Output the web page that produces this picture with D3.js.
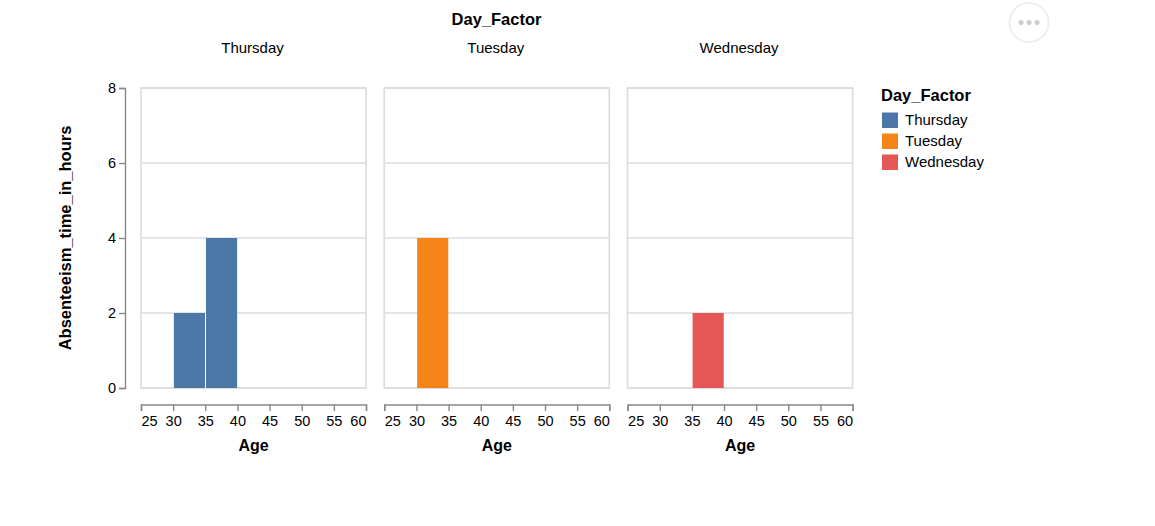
<!DOCTYPE html>
<html>
<head>
<meta charset="utf-8">
<script src="https://cdn.jsdelivr.net/npm/d3@7"></script>
<style>
  body { margin: 0; background: #fff; }
  svg { display: block; }
  text { font-family: "Liberation Sans", Arial, sans-serif; fill: #000; }
</style>
</head>
<body>
<div id="chart"></div>
<script>
const days = ['Thursday', 'Tuesday', 'Wednesday'];
const colors = ['#4c78a8', '#f58518', '#e45756'];
const xTicks = [25, 30, 35, 40, 45, 50, 55, 60];
const yTicks = [0, 2, 4, 6, 8];

// one row per bar: binned age and hours
const barDay = ['Thursday', 'Thursday', 'Tuesday', 'Wednesday'];
const barStart = [30, 35, 30, 35];
const barEnd = [35, 40, 35, 40];
const barHours = [2, 4, 4, 2];

const config = {
    width: 225,
    height: 300,
    top: 88,
    axisGap: 16.5,
    panelLeft: [141, 384.3, 627.6]
};

const svg = d3.select('#chart').append('svg')
    .attr('width', 1155)
    .attr('height', 526);

const x = d3.scaleLinear().domain([25, 60]).range([0, config.width]);
const y = d3.scaleLinear().domain([0, 8]).range([config.height, 0]);
const color = d3.scaleOrdinal().domain(days).range(colors);

svg.append('text')
    .attr('x', 496.5).attr('y', 25)
    .attr('text-anchor', 'middle')
    .style('font-size', '16.5px').style('font-weight', 'bold')
    .text('Day_Factor');

days.forEach((day, i) => {
    const left = config.panelLeft[i];
    const g = svg.append('g').attr('transform', `translate(${left},${config.top})`);

    svg.append('text')
        .attr('x', left + config.width / 2 - 1).attr('y', 53)
        .attr('text-anchor', 'middle')
        .style('font-size', '15px')
        .text(day);

    // horizontal grid
    g.selectAll('.grid').data(yTicks).enter().append('line')
        .attr('x1', 0).attr('x2', config.width)
        .attr('y1', d => y(d)).attr('y2', d => y(d))
        .attr('stroke', '#ddd').attr('stroke-width', 1.3);

    // panel frame
    g.append('rect')
        .attr('x', 0).attr('y', 0)
        .attr('width', config.width).attr('height', config.height)
        .attr('fill', 'none')
        .attr('stroke', '#ddd').attr('stroke-width', 1.7);

    // bars
    const rows = barDay.map((d, k) => k).filter(k => barDay[k] === day);
    g.selectAll('.bar').data(rows).enter().append('rect')
        .attr('x', k => x(barStart[k]) + 0.7)
        .attr('width', k => x(barEnd[k]) - x(barStart[k]) - 1)
        .attr('y', k => y(barHours[k]))
        .attr('height', k => y(0) - y(barHours[k]))
        .attr('fill', color(day));

    // x axis
    const xg = g.append('g')
        .attr('transform', `translate(0,${config.height + config.axisGap})`)
        .call(d3.axisBottom(x).tickValues(xTicks).tickSize(6.5).tickPadding(5));
    xg.select('.domain').attr('stroke', '#888').attr('stroke-width', 1.4);
    xg.selectAll('.tick line').attr('stroke', '#888').attr('stroke-width', 1.4);
    xg.selectAll('.tick text')
        .style('font-size', '14.5px')
        .style('font-family', '"Liberation Sans", Arial, sans-serif')
        .attr('fill', '#000')
        .attr('text-anchor', d => d === 25 ? 'start' : d === 60 ? 'end' : 'middle');

    svg.append('text')
        .attr('x', left + config.width / 2).attr('y', 451)
        .attr('text-anchor', 'middle')
        .style('font-size', '16px').style('font-weight', 'bold')
        .text('Age');
});

// y axis, left panel only
const yg = svg.append('g')
    .attr('transform', `translate(125,${config.top})`)
    .call(d3.axisLeft(y).tickValues(yTicks).tickSize(6).tickPadding(3));
yg.select('.domain').attr('stroke', '#888').attr('stroke-width', 1.4);
yg.selectAll('.tick line').attr('stroke', '#888').attr('stroke-width', 1.4);
yg.selectAll('.tick text')
    .style('font-size', '14.5px')
    .style('font-family', '"Liberation Sans", Arial, sans-serif')
    .attr('fill', '#000');

svg.append('text')
    .attr('transform', `translate(71,238) rotate(-90)`)
    .attr('text-anchor', 'middle')
    .style('font-size', '16.5px').style('font-weight', 'bold')
    .text('Absenteeism_time_in_hours');

// legend
svg.append('text')
    .attr('x', 881).attr('y', 101)
    .style('font-size', '16.5px').style('font-weight', 'bold')
    .text('Day_Factor');

const legend = svg.selectAll('.legend').data(days).enter().append('g')
    .attr('transform', (d, i) => `translate(882,${112.5 + i * 21})`);
legend.append('rect')
    .attr('width', 16).attr('height', 15.5)
    .attr('fill', d => color(d));
legend.append('text')
    .attr('x', 23).attr('y', 12.5)
    .style('font-size', '15px')
    .text(d => d);

// actions menu button
const menuY = 22.5;
svg.append('circle')
    .attr('cx', 1029).attr('cy', menuY).attr('r', 19.5)
    .attr('fill', '#fff').attr('stroke', '#eee').attr('stroke-width', 2);
svg.selectAll('.dot').data([-8, 0, 8]).enter().append('circle')
    .attr('cx', d => 1029 + d).attr('cy', menuY).attr('r', 2.5)
    .attr('fill', '#ccc');
</script>
</body>
</html>
